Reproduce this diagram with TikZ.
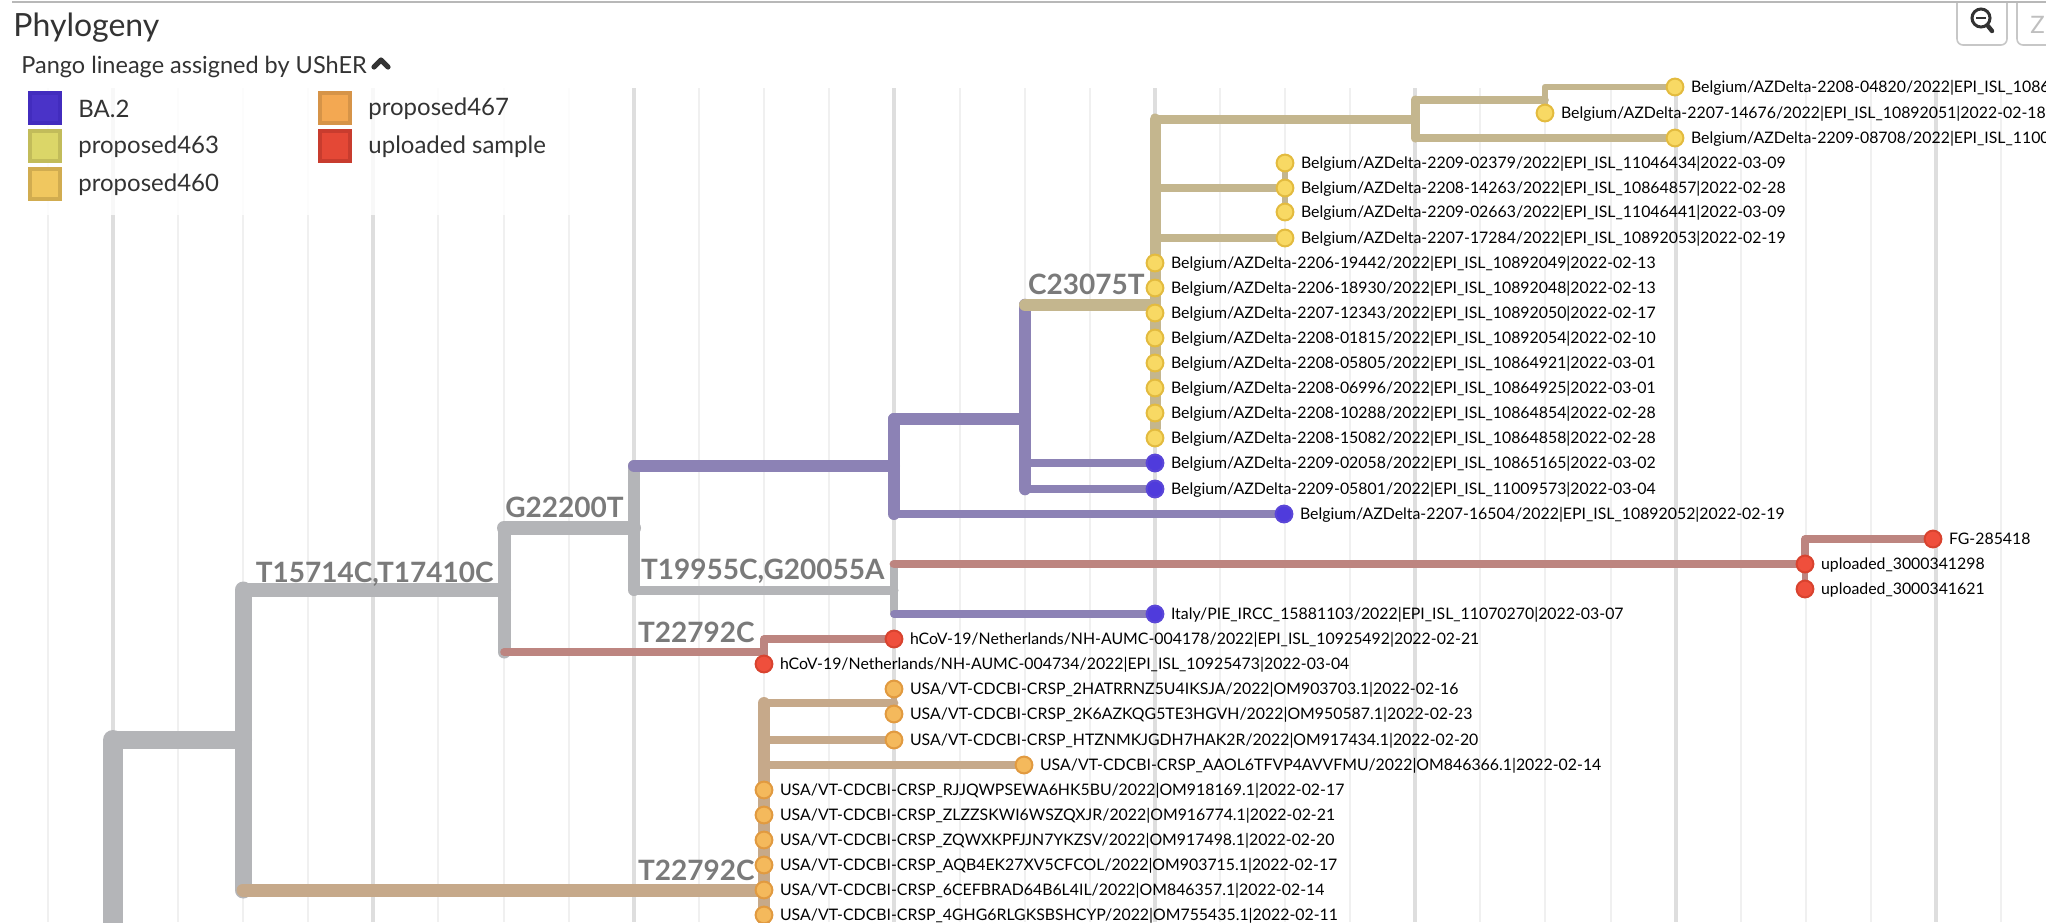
\documentclass[tikz,border=0pt]{standalone}
\usepackage{fontspec}
\setmainfont{Lato}
\pgfdeclarelayer{gridlayer}
\pgfdeclarelayer{treelayer}
\pgfsetlayers{gridlayer,treelayer,main}
\definecolor{graybr}{HTML}{B4B5B8}
\definecolor{purplebr}{HTML}{8C82B5}
\definecolor{khakibr}{HTML}{C4B68E}
\definecolor{rosebr}{HTML}{BD8580}
\definecolor{tanbr}{HTML}{C6A98A}
\definecolor{mutgray}{HTML}{7A7A7A}
\definecolor{inktext}{HTML}{333333}
\tikzset{
  tip/.style={circle,draw,line width=1pt,inner sep=0pt,minimum size=8.4pt},
  tipblue/.style={tip,fill={rgb,255:red,79;green,59;blue,220},draw={rgb,255:red,90;green,70;blue,215}},
  tipyellow/.style={tip,fill={rgb,255:red,248;green,217;blue,100},draw={rgb,255:red,227;green,187;blue,63}},
  tiporange/.style={tip,fill={rgb,255:red,244;green,185;blue,92},draw={rgb,255:red,225;green,154;blue,64}},
  tipred/.style={tip,fill={rgb,255:red,239;green,79;blue,60},draw={rgb,255:red,216;green,67;blue,47}},
  tiptext/.style={anchor=west,inner sep=0pt,xshift=3.1pt,yshift=-0.4pt,text=black,font=\fontsize{7.93}{9}\selectfont,text height=6pt,text depth=1.6pt},
  muttext/.style={anchor=base east,inner sep=0pt,text=mutgray,font=\fontsize{14}{16}\bfseries\selectfont},
  swatch/.style={rectangle,draw,line width=2.4pt,minimum width=15pt,minimum height=15pt,inner sep=0pt},
  legtext/.style={anchor=west,inner sep=0pt,text=inktext,font=\fontsize{12}{14}\selectfont},
  branch/.style={line join=round,line cap=round},
  minorgrid/.style={color=black!6,line width=1pt},
  majorgrid/.style={color=black!13,line width=1.8pt}
}
\newcommand*\tiplabel[6]{\node[#1] (#2) at (#3,#4) {};
  \node[tiptext] (#2t) at (#2.east) {#5#6};}
\begin{document}
\begin{tikzpicture}[x=0.5pt,y=-0.5pt]
\useasboundingbox (0,0) rectangle (2046,922);
\clip (0,0) rectangle (2046,922);
\begin{pgfonlayer}{gridlayer}
\fill[white] (0,0) rectangle (2046,922);
\draw[minorgrid] (48,88) -- (48,922) (178,88) -- (178,922) (243,88) -- (243,922) (308,88) -- (308,922);
\draw[minorgrid] (438,88) -- (438,922) (504,88) -- (504,922) (569,88) -- (569,922);
\draw[minorgrid] (699,88) -- (699,922) (764,88) -- (764,922) (829,88) -- (829,922);
\draw[minorgrid] (960,88) -- (960,922) (1025,88) -- (1025,922) (1090,88) -- (1090,922);
\draw[minorgrid] (1220,88) -- (1220,922) (1285,88) -- (1285,922) (1350,88) -- (1350,922);
\draw[minorgrid] (1480,88) -- (1480,922) (1545,88) -- (1545,922) (1611,88) -- (1611,922);
\draw[minorgrid] (1741,88) -- (1741,922) (1806,88) -- (1806,922) (1871,88) -- (1871,922) (2001,88) -- (2001,922);
\draw[majorgrid] (113,88) -- (113,922) (373,88) -- (373,922) (634,88) -- (634,922) (894,88) -- (894,922);
\draw[majorgrid] (1155,88) -- (1155,922) (1415,88) -- (1415,922) (1676,88) -- (1676,922) (1936,88) -- (1936,922);
\fill[white,opacity=0.8] (0,86) rectangle (631,215);
\end{pgfonlayer}
% top of the panel
\draw[color=black!28,line width=1.3pt] (12,2) -- (2046,2);
\node[anchor=base west,inner sep=0pt,text=inktext,font=\fontsize{16}{18}\selectfont] (title) at (13,36) {Phylogeny};
\node[anchor=base west,inner sep=0pt,text=inktext,font=\fontsize{11.75}{14}\selectfont] (pango) at (21,73) {Pango lineage assigned by UShER};
\draw[inktext,line width=2.6pt,line cap=round,line join=round] (374,67) -- (381,60) -- (388,67);
\draw[color=black!22,line width=0.8pt,rounded corners=3pt] (1957,3) -- (1957,45) -- (2007,45) -- (2007,3);
\draw[color=black!22,line width=0.8pt,rounded corners=3pt] (2017,3) -- (2017,45) -- (2060,45);
\node[anchor=west,inner sep=0pt,text=black!25,font=\fontsize{12}{14}\selectfont] (zoomlabel) at (2030,25) {Z};
\draw[inktext,line width=1.5pt] (1981,18) circle (4.5pt);
\draw[inktext,line width=1.2pt] (1976,18) -- (1986,18);
\draw[inktext,line width=2.2pt,line cap=round] (1988,26) -- (1992,31);
% legend
\node[swatch,fill={rgb,255:red,74;green,51;blue,200},draw={rgb,255:red,66;green,44;blue,190}] (legba) at (45,108) {};
\node[swatch,fill={rgb,255:red,219;green,214;blue,104},draw={rgb,255:red,194;green,188;blue,90}] (leg463) at (45,146) {};
\node[swatch,fill={rgb,255:red,240;green,199;blue,95},draw={rgb,255:red,209;green,172;blue,80}] (leg460) at (45,184) {};
\node[swatch,fill={rgb,255:red,243;green,168;blue,82},draw={rgb,255:red,214;green,148;blue,72}] (leg467) at (335,108) {};
\node[swatch,fill={rgb,255:red,228;green,72;blue,54},draw={rgb,255:red,200;green,60;blue,46}] (legup) at (335,146) {};
\node[legtext] (legbat) at (78,109) {BA.2};
\node[legtext] (leg463t) at (78,147) {proposed463};
\node[legtext] (leg460t) at (78,185) {proposed460};
\node[legtext] (leg467t) at (368,109) {proposed467};
\node[legtext] (legupt) at (368,147) {uploaded sample};
% tips
\tiplabel{tipyellow}{bA}{1675}{87}{Belgium/AZDelta-2208-04820/2022|EPI\_ISL\_1086}{}
\tiplabel{tipyellow}{bB}{1545}{113}{Belgium/AZDelta-2207-14676/2022|EPI\_ISL\_10892051|2022-02-18}{}
\tiplabel{tipyellow}{bC}{1675}{138}{Belgium/AZDelta-2209-08708/2022|EPI\_ISL\_1100}{}
\tiplabel{tipyellow}{bD}{1285}{163}{Belgium/AZDelta-2209-02379/2022|EPI\_ISL\_11046434|2022-03-09}{}
\tiplabel{tipyellow}{bE}{1285}{188}{Belgium/AZDelta-2208-14263/2022|EPI\_ISL\_10864857|2022-02-28}{}
\tiplabel{tipyellow}{bF}{1285}{212}{Belgium/AZDelta-2209-02663/2022|EPI\_ISL\_11046441|2022-03-09}{}
\tiplabel{tipyellow}{bG}{1285}{238}{Belgium/AZDelta-2207-17284/2022|EPI\_ISL\_10892053|2022-02-19}{}
\tiplabel{tipyellow}{bH}{1155}{263}{Belgium/AZDelta-2206-19442/2022|EPI\_ISL\_10892049|2022-02-13}{}
\tiplabel{tipyellow}{bI}{1155}{288}{Belgium/AZDelta-2206-18930/2022|EPI\_ISL\_10892048|2022-02-13}{}
\tiplabel{tipyellow}{bJ}{1155}{313}{Belgium/AZDelta-2207-12343/2022|EPI\_ISL\_10892050|2022-02-17}{}
\tiplabel{tipyellow}{bK}{1155}{338}{Belgium/AZDelta-2208-01815/2022|EPI\_ISL\_10892054|2022-02-10}{}
\tiplabel{tipyellow}{bL}{1155}{363}{Belgium/AZDelta-2208-05805/2022|EPI\_ISL\_10864921|2022-03-01}{}
\tiplabel{tipyellow}{bM}{1155}{388}{Belgium/AZDelta-2208-06996/2022|EPI\_ISL\_10864925|2022-03-01}{}
\tiplabel{tipyellow}{bN}{1155}{413}{Belgium/AZDelta-2208-10288/2022|EPI\_ISL\_10864854|2022-02-28}{}
\tiplabel{tipyellow}{bO}{1155}{438}{Belgium/AZDelta-2208-15082/2022|EPI\_ISL\_10864858|2022-02-28}{}
\tiplabel{tipblue}{bP}{1155}{463}{Belgium/AZDelta-2209-02058/2022|EPI\_ISL\_10865165|2022-03-02}{}
\tiplabel{tipblue}{bQ}{1155}{489}{Belgium/AZDelta-2209-05801/2022|EPI\_ISL\_11009573|2022-03-04}{}
\tiplabel{tipblue}{bR}{1284}{514}{Belgium/AZDelta-2207-16504/2022|EPI\_ISL\_10892052|2022-02-19}{}
\tiplabel{tipred}{fg}{1933}{539}{FG-285418}{}
\tiplabel{tipred}{upA}{1805}{564}{uploaded\_3000341298}{}
\tiplabel{tipred}{upB}{1805}{589}{uploaded\_3000341621}{}
\tiplabel{tipblue}{italy}{1155}{614}{Italy/PIE\_IRCC\_15881103/2022|EPI\_ISL\_11070270|2022-03-07}{}
\tiplabel{tipred}{nlA}{894}{639}{hCoV-19/Netherlands/NH-AUMC-004178/2022|EPI\_ISL\_10925492|2022-02-21}{}
\tiplabel{tipred}{nlB}{764}{664}{hCoV-19/Netherlands/NH-AUMC-004734/2022|EPI\_ISL\_10925473|2022-03-04}{}
\tiplabel{tiporange}{usA}{894}{689}{USA/VT-CDCBI-CRSP\_2HATRRNZ5U4IKSJA/2022|OM903703.1|2022-02-16}{}
\tiplabel{tiporange}{usB}{894}{714}{USA/VT-CDCBI-CRSP\_2K6AZKQG5TE3HGVH/2022|OM950587.1|2022-02-23}{}
\tiplabel{tiporange}{usC}{894}{740}{USA/VT-CDCBI-CRSP\_HTZNMKJGDH7HAK2R/2022|OM917434.1|2022-02-20}{}
\tiplabel{tiporange}{usD}{1024}{765}{USA/VT-CDCBI-CRSP\_AAOL6TFVP4AVVFMU/2022|OM846366.1|2022-02-14}{}
\tiplabel{tiporange}{usE}{764}{790}{USA/VT-CDCBI-CRSP\_RJJQWPSEWA6HK5BU/2022|OM918169.1|2022-02-17}{}
\tiplabel{tiporange}{usF}{764}{815}{USA/VT-CDCBI-CRSP\_ZLZZSKWI6WSZQXJR/2022|OM916774.1|2022-02-21}{}
\tiplabel{tiporange}{usG}{764}{840}{USA/VT-CDCBI-CRSP\_ZQWXKPFJJN7YKZSV/2022|OM917498.1|2022-02-20}{}
\tiplabel{tiporange}{usH}{764}{865}{USA/VT-CDCBI-CRSP\_AQB4EK27XV5CFCOL/2022|OM903715.1|2022-02-17}{}
\tiplabel{tiporange}{usI}{764}{890}{USA/VT-CDCBI-CRSP\_6CEFBRAD64B6L4IL/2022|OM846357.1|2022-02-14}{}
\tiplabel{tiporange}{usJ}{764}{915}{USA/VT-CDCBI-CRSP\_4GHG6RLGKSBSHCYP/2022|OM755435.1|2022-02-11}{}
% inner nodes of the tree
\coordinate (root) at (113,740);
\coordinate (rootend) at (113,940);
\coordinate (nA) at (243,740);
\coordinate (nAtop) at (243,590);
\coordinate (nAlow) at (243,890);
\coordinate (nB) at (504,590);
\coordinate (nBtop) at (504,528);
\coordinate (nBlow) at (504,652);
\coordinate (nC) at (634,528);
\coordinate (nCtop) at (634,466);
\coordinate (nClow) at (634,590);
\coordinate (nD) at (894,466);
\coordinate (nDtop) at (894,419);
\coordinate (nDlow) at (894,514);
\coordinate (nE) at (1025,419);
\coordinate (nEtop) at (1025,305);
\coordinate (nElow) at (1025,489);
\coordinate (nF) at (894,590);
\coordinate (nFtop) at (894,564);
\coordinate (nFlow) at (894,614);
\coordinate (nG) at (1155,305);
\coordinate (nGtop) at (1155,119);
\coordinate (nH) at (1415,119);
\coordinate (nHtop) at (1415,100);
\coordinate (nHlow) at (1415,138);
\coordinate (nI) at (1545,100);
\coordinate (nJ) at (764,652);
\coordinate (nK) at (764,890);
\coordinate (nKtop) at (764,703);
\coordinate (nKlow) at (764,940);
\begin{pgfonlayer}{treelayer}
\draw[branch,graybr,line width=10pt] (root) -- (rootend);
\draw[branch,graybr,line width=9pt] (root) -- (nA);
\draw[branch,graybr,line width=8.5pt] (nAtop) -- (nAlow);
\draw[branch,graybr,line width=7pt] (nAtop) -- (nB);
\draw[branch,graybr,line width=6.5pt] (nBtop) -- (nBlow);
\draw[branch,graybr,line width=7pt] (nBtop) -- (nC);
\draw[branch,graybr,line width=6pt] (nCtop) -- (nClow);
\draw[branch,graybr,line width=4.5pt] (nClow) -- (nF);
\draw[branch,graybr,line width=3.8pt] (nFtop) -- (nFlow);
\draw[branch,purplebr,line width=6pt] (nCtop) -- (nD);
\draw[branch,purplebr,line width=6pt] (nDtop) -- (nDlow);
\draw[branch,purplebr,line width=6pt] (nDtop) -- (nE);
\draw[branch,purplebr,line width=6.3pt] (nEtop) -- (nElow);
\draw[branch,purplebr,line width=3.8pt] (nE |- bP) -- (bP);
\draw[branch,purplebr,line width=3.8pt] (nElow) -- (bQ);
\draw[branch,purplebr,line width=3.8pt] (nDlow) -- (bR);
\draw[branch,purplebr,line width=3.8pt] (nFlow) -- (italy);
\draw[branch,khakibr,line width=6pt] (nEtop) -- (nG);
\draw[branch,khakibr,line width=5.5pt] (nGtop) -- (bO);
\draw[branch,khakibr,line width=4.5pt] (nGtop) -- (nH);
\draw[branch,khakibr,line width=4.5pt] (nHtop) -- (nHlow);
\draw[branch,khakibr,line width=3.8pt] (nHtop) -- (nI);
\draw[branch,khakibr,line width=3.3pt] (nI) |- (bA);
\draw[branch,khakibr,line width=3.3pt] (nI) -- (bB);
\draw[branch,khakibr,line width=3.8pt] (nHlow) -- (bC);
\draw[branch,khakibr,line width=3.3pt] (bD) -- (bF);
\draw[branch,khakibr,line width=3.8pt] (nGtop |- bE) -- (bE);
\draw[branch,khakibr,line width=3.8pt] (nGtop |- bG) -- (bG);
\draw[branch,rosebr,line width=4.4pt] (nFtop) -- (upA);
\draw[branch,rosebr,line width=3.8pt] (upA) |- (fg);
\draw[branch,rosebr,line width=3.3pt] (upA) -- (upB);
\draw[branch,rosebr,line width=3.8pt] (nBlow) -- (nJ);
\draw[branch,rosebr,line width=3.8pt] (nlB) |- (nlA);
\draw[branch,tanbr,line width=6.5pt] (nAlow) -- (nK);
\draw[branch,tanbr,line width=6pt] (nKtop) -- (nKlow);
\draw[branch,tanbr,line width=4.4pt] (nKtop) -- (nKtop -| usA);
\draw[branch,tanbr,line width=3.3pt] (usA) -- (usB);
\draw[branch,tanbr,line width=4.2pt] (nK |- usC) -- (usC);
\draw[branch,tanbr,line width=3.8pt] (nK |- usD) -- (usD);
\end{pgfonlayer}
% mutation labels
\node[muttext] (mutA) at (494,582) {T15714C,T17410C};
\node[muttext] (mutB) at (624,517) {G22200T};
\node[muttext] (mutC) at (885,579) {T19955C,G20055A};
\node[muttext] (mutD) at (755,642) {T22792C};
\node[muttext] (mutE) at (755,880) {T22792C};
\node[muttext] (mutF) at (1145,294) {C23075T};
\end{tikzpicture}
\end{document}
